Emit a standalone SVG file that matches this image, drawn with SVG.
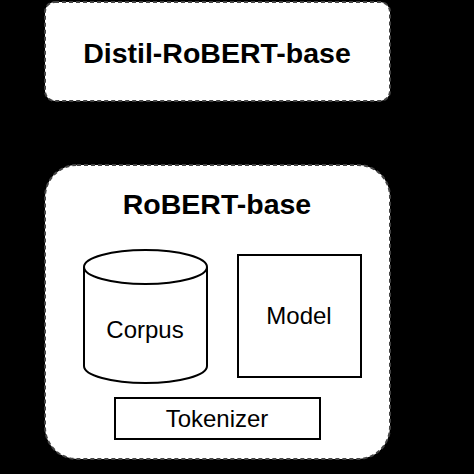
<svg xmlns="http://www.w3.org/2000/svg" width="474" height="474" viewBox="0 0 474 474">
<style>
.panel{fill:#fff;stroke:#444;stroke-width:2;stroke-dasharray:4 3}
.shape{fill:#fff;stroke:#000;stroke-width:2}
.title{font-family:"Liberation Sans",Arial,sans-serif;font-weight:bold;font-size:28.5px;fill:#000;text-anchor:middle}
.lbl{font-family:"Liberation Sans",Arial,sans-serif;font-size:24px;fill:#000;text-anchor:middle}
</style>
<rect x="0" y="0" width="474" height="474" fill="#000"/>
<g id="distil">
<rect class="panel" x="45" y="2" width="345" height="99" rx="10"/>
<text class="title" x="217" y="63">Distil-RoBERT-base</text>
</g>
<g id="robert">
<rect class="panel" x="45" y="165" width="345" height="294" rx="32"/>
<text class="title" x="217" y="214">RoBERT-base</text>
</g>
<g id="corpus">
<path class="shape" d="M84,267 L84,366 A61.5,17 0 0 0 207,366 L207,267 A61.5,17 0 0 0 84,267 Z"/>
<path class="shape" d="M84,267 A61.5,17 0 0 0 207,267" fill="none"/>
<text class="lbl" x="145" y="338">Corpus</text>
</g>
<g id="model">
<rect class="shape" x="238" y="255" width="123" height="122"/>
<text class="lbl" x="299" y="324">Model</text>
</g>
<g id="tokenizer">
<rect class="shape" x="115" y="398" width="205" height="41"/>
<text class="lbl" x="217" y="427">Tokenizer</text>
</g>
<g id="connectors"/>
</svg>
